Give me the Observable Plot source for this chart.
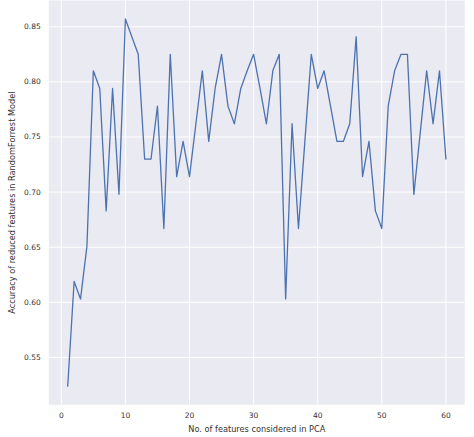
<!DOCTYPE html>
<html>
<head>
<meta charset="utf-8">
<script src="https://cdn.jsdelivr.net/npm/d3@7"></script>
<script src="https://cdn.jsdelivr.net/npm/@observablehq/plot@0.6"></script>
<style>
  html, body { margin: 0; padding: 0; background: #ffffff; }
  #chart { width: 474px; height: 437px; }
</style>
</head>
<body>
<div id="chart"></div>
<script>
const features = [1,2,3,4,5,6,7,8,9,10,11,12,13,14,15,16,17,18,19,20,21,22,23,24,25,26,27,28,29,30,31,32,33,34,35,36,37,38,39,40,41,42,43,44,45,46,47,48,49,50,51,52,53,54,55,56,57,58,59,60];
const accuracy = [0.524,0.619,0.603,0.651,0.810,0.794,0.683,0.794,0.698,0.857,
                  0.841,0.825,0.730,0.730,0.778,0.667,0.825,0.714,0.746,0.714,
                  0.762,0.810,0.746,0.794,0.825,0.778,0.762,0.794,0.810,0.825,
                  0.794,0.762,0.810,0.825,0.603,0.762,0.667,0.746,0.825,0.794,
                  0.810,0.778,0.746,0.746,0.762,0.841,0.714,0.746,0.683,0.667,
                  0.778,0.810,0.825,0.825,0.698,0.754,0.810,0.762,0.810,0.730];
const xTicks = [0,10,20,30,40,50,60];
const yTicks = [0.55,0.60,0.65,0.70,0.75,0.80,0.85];
const xLabel = "No. of features considered in PCA";
const yLabel = "Accuracy of reduced features in RandomForrest Model";

const data = features.map((f, i) => ({f, a: accuracy[i]}));

const chart = Plot.plot({
  width: 474,
  height: 437,
  marginLeft: 48.3,
  marginRight: 9.7,
  marginTop: 0,
  marginBottom: 32.7,
  style: {fontFamily: "DejaVu Sans", fontSize: "7.5px", color: "#333", background: "#ffffff"},
  x: {domain: [-1.95, 62.95]},
  y: {domain: [0.5071, 0.8738]},
  marks: [
    Plot.frame({fill: "#EAEAF2", stroke: null}),
    Plot.gridX(xTicks, {stroke: "#ffffff", strokeOpacity: 1, strokeWidth: 1}),
    Plot.gridY(yTicks, {stroke: "#ffffff", strokeOpacity: 1, strokeWidth: 1}),
    Plot.axisX(xTicks, {tickSize: 0, tickPadding: 8, tickFormat: d => String(d),
      label: xLabel, labelAnchor: "center", labelArrow: "none", labelOffset: 27,
      fontSize: "7.5px"}),
    Plot.axisY(yTicks, {tickSize: 0, tickPadding: 8, tickFormat: d => d.toFixed(2),
      label: yLabel, labelAnchor: "center", labelArrow: "none", labelOffset: 40}),
    Plot.lineY(data, {x: "f", y: "a", stroke: "#4C72B0", strokeWidth: 1.3})
  ]
});
// Enlarge axis labels slightly (seaborn axis labels are larger than tick labels)
document.getElementById("chart").appendChild(chart);
chart.querySelectorAll("text").forEach(t => {
  if (t.textContent === xLabel || t.textContent === yLabel) t.setAttribute("font-size", "8.2px");
});
</script>
</body>
</html>
